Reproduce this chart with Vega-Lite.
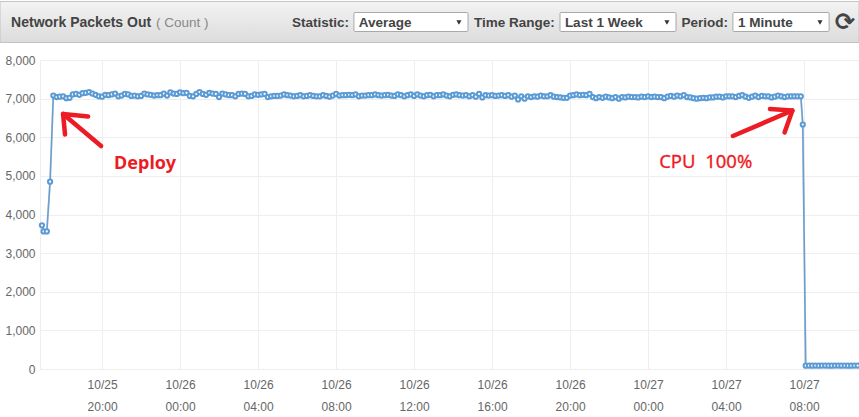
{"$schema":"https://vega.github.io/schema/vega-lite/v6.json","width":819,"height":309,"autosize":{"type":"none"},"padding":{"left":40,"top":60,"right":0,"bottom":48},"background":"white","view":{"stroke":"#eeeeee"},
"datasets":{
"band":[{"t":"2017-10-25T14:46","t2":"2017-10-27T10:49","v":9515,"v2":8453}],
"boxes":[{"t":"2017-10-26T08:55","t2":"2017-10-26T14:46","v":9230,"v2":8738},{"t":"2017-10-26T19:29","t2":"2017-10-27T01:26","v":9230,"v2":8738},{"t":"2017-10-27T04:21","t2":"2017-10-27T09:17","v":9230,"v2":8738}],
"carets":[{"t":"2017-10-26T14:18","v":8970},{"t":"2017-10-27T00:58","v":8970},{"t":"2017-10-27T08:49","v":8970}],
"titleText":[{"t":"2017-10-25T15:20","v":8955,"label":"Network Packets Out"}],
"boldText":[{"t":"2017-10-26T05:44","v":8955,"label":"Statistic:"},{"t":"2017-10-26T15:04","v":8955,"label":"Time Range:"},{"t":"2017-10-27T01:43","v":8955,"label":"Period:"},{"t":"2017-10-26T09:10","v":8955,"label":"Average"},{"t":"2017-10-26T19:44","v":8955,"label":"Last 1 Week"},{"t":"2017-10-27T04:37","v":8955,"label":"1 Minute"}],
"unit":[{"t":"2017-10-25T22:46","v":8955,"label":"( Count )"}],
"refresh":[{"t":"2017-10-27T10:06","v":8950,"label":"⟳"}],
"deploy":[{"t":"2017-10-25T20:37","v":5320,"label":"Deploy"}],
"cpu":[{"t":"2017-10-27T00:34","v":5372,"label":"CPU\u00a0\u00a0100%"}],
"arrows":[{"a":"d1","o":1,"t":"2017-10-25T19:17","v":6537},{"a":"d1","o":2,"t":"2017-10-25T18:00","v":6602},{"a":"d1","o":3,"t":"2017-10-25T18:06","v":6071},{"a":"d2","o":1,"t":"2017-10-25T18:00","v":6602},{"a":"d2","o":2,"t":"2017-10-25T19:57","v":5773},{"a":"c1","o":1,"t":"2017-10-27T06:15","v":6731},{"a":"c1","o":2,"t":"2017-10-27T07:24","v":6692},{"a":"c1","o":3,"t":"2017-10-27T07:00","v":6123},{"a":"c2","o":1,"t":"2017-10-27T07:24","v":6692},{"a":"c2","o":2,"t":"2017-10-27T04:21","v":6032}],
"packets":[
{"t":"2017-10-25T16:55","v":3720},{"t":"2017-10-25T17:00","v":3560},{"t":"2017-10-25T17:10","v":3560},{"t":"2017-10-25T17:20","v":4850},
{"t":"2017-10-25T17:30","v":7080},{"t":"2017-10-25T17:40","v":7040},{"t":"2017-10-25T17:50","v":7050},{"t":"2017-10-25T18:00","v":7060},{"t":"2017-10-25T18:10","v":7010},{"t":"2017-10-25T18:20","v":7020},
{"t":"2017-10-25T18:30","v":7110},{"t":"2017-10-25T18:40","v":7120},{"t":"2017-10-25T18:50","v":7100},{"t":"2017-10-25T19:00","v":7140},{"t":"2017-10-25T19:10","v":7150},{"t":"2017-10-25T19:20","v":7170},
{"t":"2017-10-25T19:30","v":7130},{"t":"2017-10-25T19:40","v":7100},{"t":"2017-10-25T19:50","v":7060},{"t":"2017-10-25T20:00","v":7050},{"t":"2017-10-25T20:10","v":7100},{"t":"2017-10-25T20:20","v":7090},
{"t":"2017-10-25T20:30","v":7110},{"t":"2017-10-25T20:40","v":7130},{"t":"2017-10-25T20:50","v":7060},{"t":"2017-10-25T21:00","v":7080},{"t":"2017-10-25T21:10","v":7120},{"t":"2017-10-25T21:20","v":7110},
{"t":"2017-10-25T21:30","v":7070},{"t":"2017-10-25T21:40","v":7080},{"t":"2017-10-25T21:50","v":7060},{"t":"2017-10-25T22:00","v":7070},{"t":"2017-10-25T22:10","v":7130},{"t":"2017-10-25T22:20","v":7110},
{"t":"2017-10-25T22:30","v":7100},{"t":"2017-10-25T22:40","v":7080},{"t":"2017-10-25T22:50","v":7090},{"t":"2017-10-25T23:00","v":7090},{"t":"2017-10-25T23:10","v":7130},{"t":"2017-10-25T23:20","v":7080},
{"t":"2017-10-25T23:30","v":7160},{"t":"2017-10-25T23:40","v":7130},{"t":"2017-10-25T23:50","v":7120},
{"t":"2017-10-26T00:00","v":7160},{"t":"2017-10-26T00:10","v":7140},{"t":"2017-10-26T00:20","v":7150},{"t":"2017-10-26T00:30","v":7070},{"t":"2017-10-26T00:40","v":7060},{"t":"2017-10-26T00:50","v":7120},
{"t":"2017-10-26T01:00","v":7170},{"t":"2017-10-26T01:10","v":7120},{"t":"2017-10-26T01:20","v":7100},{"t":"2017-10-26T01:30","v":7150},{"t":"2017-10-26T01:40","v":7130},{"t":"2017-10-26T01:50","v":7120},
{"t":"2017-10-26T02:00","v":7040},{"t":"2017-10-26T02:10","v":7130},{"t":"2017-10-26T02:20","v":7110},{"t":"2017-10-26T02:30","v":7090},{"t":"2017-10-26T02:40","v":7090},{"t":"2017-10-26T02:50","v":7060},
{"t":"2017-10-26T03:00","v":7120},{"t":"2017-10-26T03:10","v":7130},{"t":"2017-10-26T03:20","v":7120},{"t":"2017-10-26T03:30","v":7060},{"t":"2017-10-26T03:40","v":7070},{"t":"2017-10-26T03:50","v":7110},
{"t":"2017-10-26T04:00","v":7100},{"t":"2017-10-26T04:10","v":7110},{"t":"2017-10-26T04:20","v":7120},{"t":"2017-10-26T04:30","v":7040},{"t":"2017-10-26T04:40","v":7060},{"t":"2017-10-26T04:50","v":7070},
{"t":"2017-10-26T05:00","v":7070},{"t":"2017-10-26T05:10","v":7080},{"t":"2017-10-26T05:20","v":7110},{"t":"2017-10-26T05:30","v":7090},{"t":"2017-10-26T05:40","v":7080},{"t":"2017-10-26T05:50","v":7060},
{"t":"2017-10-26T06:00","v":7070},{"t":"2017-10-26T06:10","v":7090},{"t":"2017-10-26T06:20","v":7060},{"t":"2017-10-26T06:30","v":7070},{"t":"2017-10-26T06:40","v":7090},{"t":"2017-10-26T06:50","v":7070},
{"t":"2017-10-26T07:00","v":7060},{"t":"2017-10-26T07:10","v":7060},{"t":"2017-10-26T07:20","v":7090},{"t":"2017-10-26T07:30","v":7070},{"t":"2017-10-26T07:40","v":7050},{"t":"2017-10-26T07:50","v":7080},
{"t":"2017-10-26T08:00","v":7120},{"t":"2017-10-26T08:10","v":7080},{"t":"2017-10-26T08:20","v":7090},{"t":"2017-10-26T08:30","v":7090},{"t":"2017-10-26T08:40","v":7100},{"t":"2017-10-26T08:50","v":7090},
{"t":"2017-10-26T09:00","v":7110},{"t":"2017-10-26T09:10","v":7060},{"t":"2017-10-26T09:20","v":7080},{"t":"2017-10-26T09:30","v":7080},{"t":"2017-10-26T09:40","v":7090},{"t":"2017-10-26T09:50","v":7090},
{"t":"2017-10-26T10:00","v":7110},{"t":"2017-10-26T10:10","v":7090},{"t":"2017-10-26T10:20","v":7080},{"t":"2017-10-26T10:30","v":7090},{"t":"2017-10-26T10:40","v":7100},{"t":"2017-10-26T10:50","v":7080},
{"t":"2017-10-26T11:00","v":7070},{"t":"2017-10-26T11:10","v":7110},{"t":"2017-10-26T11:20","v":7090},{"t":"2017-10-26T11:30","v":7060},{"t":"2017-10-26T11:40","v":7090},{"t":"2017-10-26T11:50","v":7110},
{"t":"2017-10-26T12:00","v":7070},{"t":"2017-10-26T12:10","v":7110},{"t":"2017-10-26T12:20","v":7080},{"t":"2017-10-26T12:30","v":7060},{"t":"2017-10-26T12:40","v":7090},{"t":"2017-10-26T12:50","v":7100},
{"t":"2017-10-26T13:00","v":7060},{"t":"2017-10-26T13:10","v":7090},{"t":"2017-10-26T13:20","v":7090},{"t":"2017-10-26T13:30","v":7110},{"t":"2017-10-26T13:40","v":7080},{"t":"2017-10-26T13:50","v":7060},
{"t":"2017-10-26T14:00","v":7100},{"t":"2017-10-26T14:10","v":7110},{"t":"2017-10-26T14:20","v":7090},{"t":"2017-10-26T14:30","v":7080},{"t":"2017-10-26T14:40","v":7090},{"t":"2017-10-26T14:50","v":7060},
{"t":"2017-10-26T15:00","v":7090},{"t":"2017-10-26T15:10","v":7050},{"t":"2017-10-26T15:20","v":7120},{"t":"2017-10-26T15:30","v":7030},{"t":"2017-10-26T15:40","v":7090},{"t":"2017-10-26T15:50","v":7080},
{"t":"2017-10-26T16:00","v":7090},{"t":"2017-10-26T16:10","v":7070},{"t":"2017-10-26T16:20","v":7080},{"t":"2017-10-26T16:30","v":7090},{"t":"2017-10-26T16:40","v":7070},{"t":"2017-10-26T16:50","v":7090},
{"t":"2017-10-26T17:00","v":7050},{"t":"2017-10-26T17:10","v":7080},{"t":"2017-10-26T17:20","v":6980},{"t":"2017-10-26T17:30","v":7060},{"t":"2017-10-26T17:40","v":7000},{"t":"2017-10-26T17:50","v":7060},
{"t":"2017-10-26T18:00","v":7040},{"t":"2017-10-26T18:10","v":7060},{"t":"2017-10-26T18:20","v":7050},{"t":"2017-10-26T18:30","v":7080},{"t":"2017-10-26T18:40","v":7060},{"t":"2017-10-26T18:50","v":7060},
{"t":"2017-10-26T19:00","v":7090},{"t":"2017-10-26T19:10","v":7050},{"t":"2017-10-26T19:20","v":7040},{"t":"2017-10-26T19:30","v":7030},{"t":"2017-10-26T19:40","v":7020},{"t":"2017-10-26T19:50","v":7020},
{"t":"2017-10-26T20:00","v":7080},{"t":"2017-10-26T20:10","v":7090},{"t":"2017-10-26T20:20","v":7110},{"t":"2017-10-26T20:30","v":7090},{"t":"2017-10-26T20:40","v":7100},{"t":"2017-10-26T20:50","v":7090},
{"t":"2017-10-26T21:00","v":7120},{"t":"2017-10-26T21:10","v":7040},{"t":"2017-10-26T21:20","v":7010},{"t":"2017-10-26T21:30","v":7040},{"t":"2017-10-26T21:40","v":7020},{"t":"2017-10-26T21:50","v":7050},
{"t":"2017-10-26T22:00","v":7030},{"t":"2017-10-26T22:10","v":7010},{"t":"2017-10-26T22:20","v":7040},{"t":"2017-10-26T22:30","v":7000},{"t":"2017-10-26T22:40","v":7040},{"t":"2017-10-26T22:50","v":7030},
{"t":"2017-10-26T23:00","v":7050},{"t":"2017-10-26T23:10","v":7040},{"t":"2017-10-26T23:20","v":7040},{"t":"2017-10-26T23:30","v":7030},{"t":"2017-10-26T23:40","v":7050},{"t":"2017-10-26T23:50","v":7040},
{"t":"2017-10-27T00:00","v":7060},{"t":"2017-10-27T00:10","v":7040},{"t":"2017-10-27T00:20","v":7050},{"t":"2017-10-27T00:30","v":7040},{"t":"2017-10-27T00:40","v":7040},{"t":"2017-10-27T00:50","v":7010},
{"t":"2017-10-27T01:00","v":7050},{"t":"2017-10-27T01:10","v":7070},{"t":"2017-10-27T01:20","v":7050},{"t":"2017-10-27T01:30","v":7080},{"t":"2017-10-27T01:40","v":7060},{"t":"2017-10-27T01:50","v":7090},
{"t":"2017-10-27T02:00","v":7040},{"t":"2017-10-27T02:10","v":7030},{"t":"2017-10-27T02:20","v":7010},{"t":"2017-10-27T02:30","v":7000},{"t":"2017-10-27T02:40","v":7010},{"t":"2017-10-27T02:50","v":7020},
{"t":"2017-10-27T03:00","v":7010},{"t":"2017-10-27T03:10","v":7030},{"t":"2017-10-27T03:20","v":7030},{"t":"2017-10-27T03:30","v":7050},{"t":"2017-10-27T03:40","v":7050},{"t":"2017-10-27T03:50","v":7030},
{"t":"2017-10-27T04:00","v":7060},{"t":"2017-10-27T04:10","v":7060},{"t":"2017-10-27T04:20","v":7060},{"t":"2017-10-27T04:30","v":7040},{"t":"2017-10-27T04:40","v":7070},{"t":"2017-10-27T04:50","v":7090},
{"t":"2017-10-27T05:00","v":7050},{"t":"2017-10-27T05:10","v":7020},{"t":"2017-10-27T05:20","v":7050},{"t":"2017-10-27T05:30","v":7080},{"t":"2017-10-27T05:40","v":7040},{"t":"2017-10-27T05:50","v":7070},
{"t":"2017-10-27T06:00","v":7060},{"t":"2017-10-27T06:10","v":7060},{"t":"2017-10-27T06:20","v":7030},{"t":"2017-10-27T06:30","v":7050},{"t":"2017-10-27T06:40","v":7080},{"t":"2017-10-27T06:50","v":7060},
{"t":"2017-10-27T07:00","v":7040},{"t":"2017-10-27T07:10","v":7060},{"t":"2017-10-27T07:20","v":7060},{"t":"2017-10-27T07:30","v":7060},{"t":"2017-10-27T07:40","v":7060},{"t":"2017-10-27T07:50","v":7060},
{"t":"2017-10-27T07:56","v":6330},{"t":"2017-10-27T08:05","v":85},{"t":"2017-10-27T08:15","v":90},{"t":"2017-10-27T08:25","v":85},{"t":"2017-10-27T08:35","v":90},{"t":"2017-10-27T08:45","v":85},{"t":"2017-10-27T08:55","v":90},
{"t":"2017-10-27T09:05","v":90},{"t":"2017-10-27T09:15","v":85},{"t":"2017-10-27T09:25","v":85},{"t":"2017-10-27T09:35","v":90},{"t":"2017-10-27T09:45","v":90},{"t":"2017-10-27T09:55","v":85},
{"t":"2017-10-27T10:05","v":90},{"t":"2017-10-27T10:15","v":85},{"t":"2017-10-27T10:25","v":85},{"t":"2017-10-27T10:35","v":90},{"t":"2017-10-27T10:45","v":90}]
},
"encoding":{
"x":{"field":"t","type":"temporal","title":null,"scale":{"domain":[{"year":2017,"month":10,"date":25,"hours":16,"minutes":49},{"year":2017,"month":10,"date":27,"hours":10,"minutes":49}],"nice":false},"axis":{"values":[{"year":2017,"month":10,"date":25,"hours":20},{"year":2017,"month":10,"date":26,"hours":0},{"year":2017,"month":10,"date":26,"hours":4},{"year":2017,"month":10,"date":26,"hours":8},{"year":2017,"month":10,"date":26,"hours":12},{"year":2017,"month":10,"date":26,"hours":16},{"year":2017,"month":10,"date":26,"hours":20},{"year":2017,"month":10,"date":27,"hours":0},{"year":2017,"month":10,"date":27,"hours":4},{"year":2017,"month":10,"date":27,"hours":8}],"labelExpr":"[timeFormat(datum.value,'%m/%d'),timeFormat(datum.value,'%H:%M')]","labelLineHeight":22,"labelFont":"Liberation Sans","labelFontSize":12,"labelColor":"#666666","labelPadding":10,"labelFlush":false,"labelOverlap":false,"ticks":false,"domain":false,"grid":true,"gridColor":"#eeeeee","gridWidth":1}},
"y":{"field":"v","type":"quantitative","title":null,"scale":{"domain":[0,8000],"nice":false,"zero":true},"axis":{"values":[0,1000,2000,3000,4000,5000,6000,7000,8000],"format":",.0f","labelFont":"Liberation Sans","labelFontSize":12,"labelColor":"#666666","labelPadding":5,"ticks":false,"domain":false,"grid":true,"gridColor":"#eeeeee","gridWidth":1}}
},
"layer":[
{"data":{"name":"band","format":{"parse":{"t":"date","t2":"date"}}},"mark":{"type":"rect","clip":false,"stroke":"#c4c4c4","strokeWidth":1,"fill":{"gradient":"linear","x1":0,"y1":0,"x2":0,"y2":1,"stops":[{"offset":0,"color":"#f3f3f3"},{"offset":1,"color":"#dcdcdc"}]}},"encoding":{"x2":{"field":"t2"},"y2":{"field":"v2"}}},
{"data":{"name":"boxes","format":{"parse":{"t":"date","t2":"date"}}},"mark":{"type":"rect","fill":"white","stroke":"#a8a8a8","strokeWidth":1,"cornerRadius":1},"encoding":{"x2":{"field":"t2"},"y2":{"field":"v2"}}},
{"data":{"name":"carets"},"mark":{"type":"point","shape":"triangle-down","filled":true,"color":"#333333","size":26,"opacity":1}},
{"data":{"name":"titleText"},"mark":{"type":"text","align":"left","baseline":"middle","font":"Liberation Sans","fontSize":14,"fontWeight":"bold","color":"#444444"},"encoding":{"text":{"field":"label"}}},
{"data":{"name":"boldText"},"mark":{"type":"text","align":"left","baseline":"middle","font":"Liberation Sans","fontSize":13.5,"fontWeight":"bold","color":"#444444"},"encoding":{"text":{"field":"label"}}},
{"data":{"name":"unit"},"mark":{"type":"text","align":"left","baseline":"middle","font":"Liberation Sans","fontSize":13.5,"color":"#888888"},"encoding":{"text":{"field":"label"}}},
{"data":{"name":"refresh"},"mark":{"type":"text","align":"center","baseline":"middle","font":"DejaVu Sans","fontSize":24,"fontWeight":"bold","color":"#444444"},"encoding":{"text":{"field":"label"}}},
{"data":{"name":"packets"},"mark":{"type":"line","color":"#9a9a9a","strokeWidth":2,"opacity":0.3,"dx":1,"dy":1,"interpolate":"linear"}},
{"data":{"name":"packets"},"mark":{"type":"line","color":"#6a9fd0","strokeWidth":1.6,"interpolate":"linear"}},
{"data":{"name":"packets"},"mark":{"type":"point","shape":"circle","filled":false,"fill":"white","fillOpacity":1,"stroke":"#5b9bd5","strokeWidth":2,"size":18,"opacity":1}},
{"data":{"name":"arrows"},"mark":{"type":"line","color":"#ed1c24","strokeWidth":4.5,"strokeCap":"round","strokeJoin":"round"},"encoding":{"detail":{"field":"a"},"order":{"field":"o"}}},
{"data":{"name":"deploy"},"mark":{"type":"text","align":"left","baseline":"middle","font":"Noto Sans","fontSize":18,"fontWeight":"bold","color":"#ed1c24"},"encoding":{"text":{"field":"label"}}},
{"data":{"name":"cpu"},"mark":{"type":"text","align":"left","baseline":"middle","font":"Noto Sans","fontSize":18.5,"color":"#ed1c24","stroke":"#ed1c24","strokeWidth":0.3},"encoding":{"text":{"field":"label"}}}
]}
